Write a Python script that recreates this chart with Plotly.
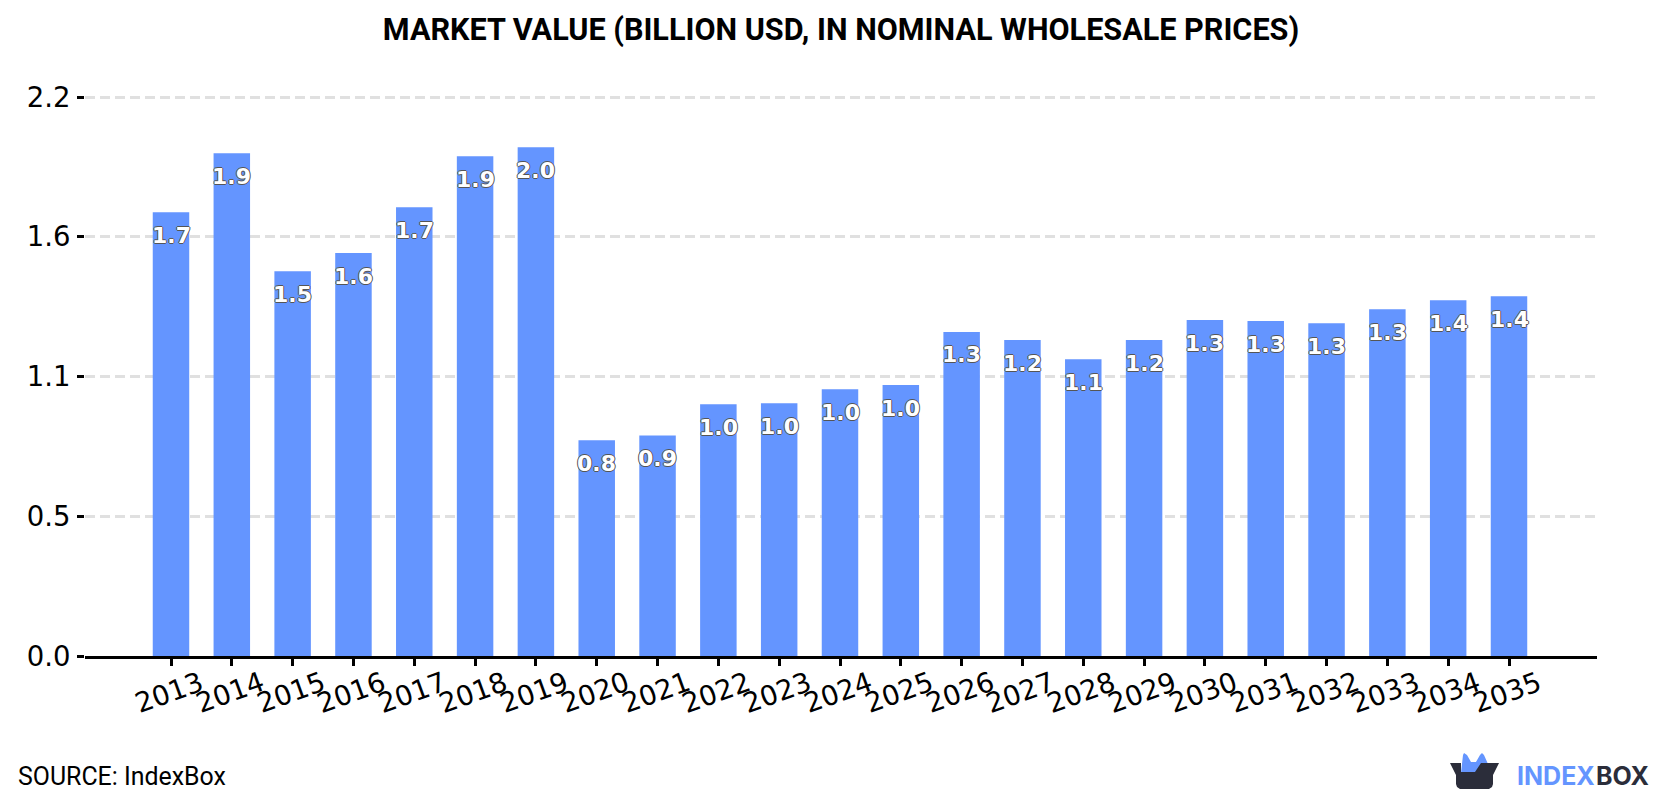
import plotly.graph_objects as go

# Market value series, billion USD
years = list(range(2013, 2036))
market_value = [1.715, 1.943, 1.487, 1.557, 1.734, 1.931, 1.966, 0.834, 0.852,
                0.973, 0.977, 1.031, 1.047, 1.252, 1.221, 1.147, 1.221, 1.298,
                1.294, 1.286, 1.340, 1.375, 1.390]

TITLE = "MARKET VALUE (BILLION USD, IN NOMINAL WHOLESALE PRICES)"
SOURCE = "SOURCE: IndexBox"
BLUE = "#6495FF"
DARK = "#2B2D3A"

# Plot-area frame in page pixels
W, H = 1680, 800
LEFT, RIGHT, TOP, BOTTOM = 85, 1597, 94, 656


def px(x, y):
    """Page pixels to paper coordinates, for items placed outside the axes."""
    return (x - LEFT) / (RIGHT - LEFT), (BOTTOM - y) / (BOTTOM - TOP)


def path(points):
    return "M" + " L".join("{:.5f},{:.5f}".format(*px(*p)) for p in points) + " Z"


fig = go.Figure(go.Bar(x=years, y=market_value, width=0.6,
                       marker=dict(color=BLUE, line_width=0), hoverinfo="x+y"))

outline = "-1px 0 0 #555, 1px 0 0 #555, 0 -1px 0 #555, 0 1px 0 #555"
annotations = []

# Value labels inside the top of each bar
for yr, val in zip(years, market_value):
    annotations.append(dict(x=yr, y=val, xref="x", yref="y", text=f"{val:.1f}",
                            showarrow=False, yshift=-23,
                            font=dict(family="DejaVu Sans", size=22, color="white",
                                      weight="bold", shadow=outline)))

# Slanted year labels centred under their ticks
_, year_y = px(0, 692)
for yr in years:
    annotations.append(dict(x=yr, y=year_y, xref="x", yref="paper", text=str(yr),
                            showarrow=False, textangle=-20, xshift=-2, yanchor="middle",
                            font=dict(family="DejaVu Sans", size=27.5, color="black")))

sx, sy = px(16, 776)
annotations.append(dict(x=sx, y=sy, xref="paper", yref="paper", text=SOURCE,
                        showarrow=False, xanchor="left", yanchor="middle",
                        font=dict(family="Roboto", size=24.9, color="black")))

# Brand wordmark
bx, by = px(1515, 776)
annotations.append(dict(x=bx, y=by, xref="paper", yref="paper", text="INDEX",
                        showarrow=False, xanchor="left", yanchor="middle",
                        font=dict(family="Inter", size=25, color=BLUE, weight="bold")))
ex, _ = px(1651, 776)
annotations.append(dict(x=ex, y=by, xref="paper", yref="paper", text="BOX",
                        showarrow=False, xanchor="right", yanchor="middle",
                        font=dict(family="Inter", size=25, color=DARK, weight="bold")))

# Brand mark: open box with a blue crown
crown = [(1461, 773), (1463, 755), (1464, 753), (1467, 755), (1471, 762), (1476, 762),
         (1480, 755), (1482, 753), (1484, 755), (1488, 764), (1481, 773)]
box = [(1450, 763), (1461, 763), (1461, 772), (1475, 772), (1481, 763), (1499, 763),
       (1493, 775), (1493, 784), (1492, 787), (1489, 789), (1460, 789), (1457, 787),
       (1456, 784), (1456, 775)]
shapes = [dict(type="path", xref="paper", yref="paper", path=path(crown),
               fillcolor=BLUE, line_width=0),
          dict(type="path", xref="paper", yref="paper", path=path(box),
               fillcolor=DARK, line_width=0)]

fig.update_layout(
    width=W, height=H, autosize=False,
    margin=dict(l=LEFT, r=W - RIGHT, t=TOP, b=H - BOTTOM, pad=0),
    paper_bgcolor="white", plot_bgcolor="white", showlegend=False,
    title=dict(text=f"<b>{TITLE}</b>", x=0.5, xanchor="center", xref="paper",
               y=1 - 29.5 / H, yanchor="middle", yref="container",
               font=dict(family="Roboto", size=30.6, color="black")),
    xaxis=dict(range=[2013 - 1.414, 2013 + 23.447], tickmode="array", tickvals=years,
               showgrid=False, showline=True, linecolor="black", linewidth=3,
               ticks="outside", ticklen=7, tickwidth=2.5, tickcolor="black",
               showticklabels=False, zeroline=False),
    yaxis=dict(range=[0, 2.1716], tick0=0, dtick=0.54, tickformat=".1f",
               showgrid=True, gridcolor="#E0E0E0", gridwidth=2.5, griddash="10px,5px",
               showline=False, zeroline=False, ticks="outside", ticklen=7,
               tickwidth=2.5, tickcolor="black", ticklabelstandoff=1,
               tickfont=dict(family="DejaVu Sans", size=27.5, color="black")),
    annotations=annotations, shapes=shapes,
)

fig.write_html("out.html")
